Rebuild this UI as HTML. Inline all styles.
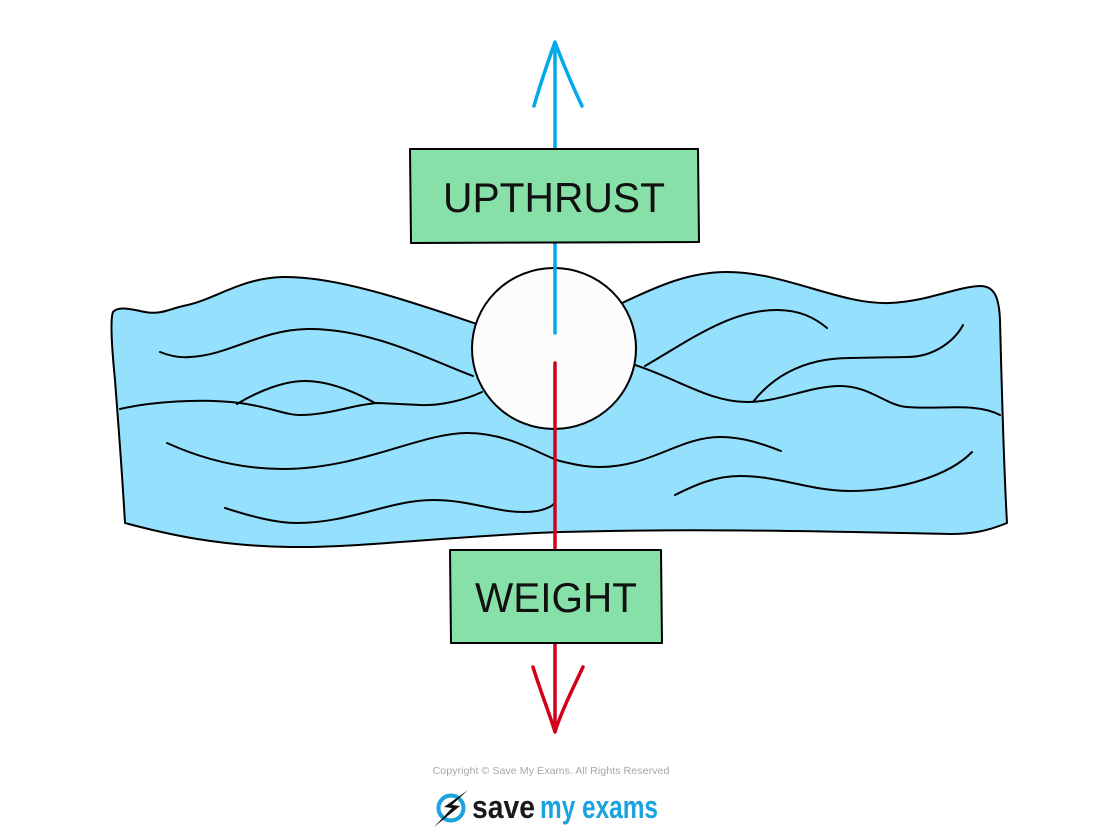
<!DOCTYPE html>
<html>
<head>
<meta charset="utf-8">
<style>
  html, body { margin: 0; padding: 0; background: #ffffff; }
  body { width: 1100px; height: 840px; overflow: hidden; }
  svg { display: block; }
</style>
</head>
<body>
<svg width="1100" height="840" viewBox="0 0 1100 840" xmlns="http://www.w3.org/2000/svg">
  <rect width="1100" height="840" fill="#ffffff"/>

  <!-- Water body -->
  <path d="M113,312 C118,306 130,309 145,312 C160,315 170,309 183,306 C215,300 240,278 283,277 C340,276 420,305 480,325 L560,312 L622,303 C660,285 690,272 727,272 C785,272 840,305 890,303 C930,301 955,287 980,286 C995,286 999,298 1000,320 C1002,400 1004,470 1007,523 C985,532 970,534 950,534 C850,532 700,528 560,532 C450,536 360,548 290,547 C220,546 170,535 125,523 C122,470 118,420 115,380 C112,350 110,320 113,312 Z"
        fill="#95e1fd" stroke="#000" stroke-width="2" stroke-linejoin="round"/>

  <!-- inner wave lines -->
  <g fill="none" stroke="#000" stroke-width="2" stroke-linecap="round">
    <path d="M160,352 C170,356 180,358 190,357 C230,355 260,330 307,329 C370,328 430,360 473,376"/>
    <path d="M120,409 C150,402 200,398 240,403 C270,407 285,415 300,415 C330,415 355,404 378,403 L420,405 C440,406 465,400 482,392"/>
    <path d="M237,404 C260,390 285,381 305,381 C330,381 355,392 375,403"/>
    <path d="M167,443 C200,458 240,469 283,469 C360,469 420,433 467,433 C510,433 540,455 560,461 C580,466 590,467 600,467 C650,467 680,437 720,437 C745,437 765,445 781,451"/>
    <path d="M225,508 C250,516 275,523 297,523 C350,523 390,500 433,500 C470,500 495,512 523,512 C540,512 550,508 555,503"/>
    <path d="M645,366 C690,340 730,310 777,310 C800,310 815,318 827,328"/>
    <path d="M635,365 C680,380 710,402 747,402 C780,402 810,386 840,386 C870,386 885,405 907,407 C940,410 975,402 1000,415"/>
    <path d="M753,402 C770,380 800,358 850,358 L907,357 C935,357 955,340 963,325"/>
    <path d="M675,495 C695,485 715,476 740,476 C780,476 810,491 850,491 C900,491 950,475 972,452"/>
  </g>

  <!-- ball -->
  <ellipse cx="554" cy="348.5" rx="82" ry="80.5" fill="#fcfcfc" stroke="#000" stroke-width="2"/>

  <!-- Upthrust arrow -->
  <g fill="none" stroke="#00a9e8" stroke-width="3.5" stroke-linecap="round" stroke-linejoin="round">
    <path d="M555,44 L555,333"/>
    <path d="M534,106 C540,85 550,56 555,42 C560,56 572,85 582,106"/>
  </g>

  <!-- Weight arrow -->
  <g fill="none" stroke="#d0021b" stroke-width="3.5" stroke-linecap="round" stroke-linejoin="round">
    <path d="M555,363 L555,730"/>
    <path d="M533,667 C540,690 550,715 555,732 C560,715 572,690 583,667"/>
  </g>

  <!-- UPTHRUST box -->
  <polygon points="410,149 698,149 699,242 411,243" fill="#88e0a9" stroke="#000" stroke-width="2" stroke-linejoin="round"/>
  <text x="554" y="212" text-anchor="middle" font-family="Liberation Sans, sans-serif" font-size="42" fill="#111" textLength="222" lengthAdjust="spacingAndGlyphs">UPTHRUST</text>

  <!-- WEIGHT box -->
  <polygon points="450,550 661,550 662,643 451,643" fill="#88e0a9" stroke="#000" stroke-width="2" stroke-linejoin="round"/>
  <text x="556" y="612" text-anchor="middle" font-family="Liberation Sans, sans-serif" font-size="42" fill="#111" textLength="162" lengthAdjust="spacingAndGlyphs">WEIGHT</text>

  <!-- Footer copyright -->
  <text x="551" y="774" text-anchor="middle" font-family="Liberation Sans, sans-serif" font-size="10.5" fill="#a8a8a8" textLength="237" lengthAdjust="spacingAndGlyphs">Copyright © Save My Exams. All Rights Reserved</text>

  <!-- Logo icon -->
  <circle cx="451" cy="808" r="12.5" fill="none" stroke="#1aa3dd" stroke-width="4"/>
  <polygon points="468,790 444,807 452,808 434,827 460,806 452,805" fill="#111"/>

  <!-- Logo text -->
  <text x="472" y="818" font-family="Liberation Sans, sans-serif" font-weight="bold" font-size="32" fill="#1a1a1a" textLength="63" lengthAdjust="spacingAndGlyphs">save</text>
  <text x="540" y="818" font-family="Liberation Sans, sans-serif" font-weight="bold" font-size="32" fill="#1aa3dd" textLength="118" lengthAdjust="spacingAndGlyphs">my exams</text>
</svg>
</body>
</html>
